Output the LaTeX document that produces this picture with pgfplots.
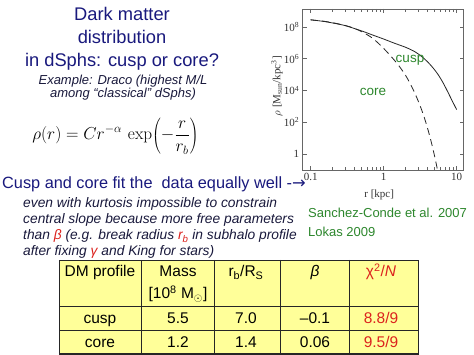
\documentclass[border=0pt]{standalone}
\usepackage[no-math]{fontspec}
\setmainfont{Liberation Sans}
\newfontfamily\serif{Liberation Serif}
\newfontfamily\dejavu{DejaVu Sans}
\usepackage{pgfplots}
\pgfplotsset{compat=1.18}
\definecolor{navy}{RGB}{25,25,125}
\definecolor{dred}{RGB}{220,35,30}
\definecolor{dgreen}{RGB}{45,135,45}
\definecolor{tyellow}{RGB}{255,255,153}
\definecolor{itxt}{RGB}{25,25,60}
\newcommand\fs[1]{\fontsize{#1}{#1}\selectfont}

\pgfplotstableread{
r rho
0.1 2.82e8
0.15 2.24e8
0.2 1.78e8
0.3 1.20e8
0.5 5.62e7
0.7 3.16e7
1.0 1.74e7
1.4 9.55e6
2.0 5.25e6
2.66 2.82e6
3.3 1.41e6
4.05 6.03e5
4.8 2.51e5
5.54 1.05e5
6.5 3.16e4
7.59 7.94e3
8.7 2.24e3
10 631
}\cusp

\pgfplotstableread{
r rho
0.1 2.8e8
0.15 2.3e8
0.2 1.86e8
0.3 1.23e8
0.4 8.0e7
0.5 5.0e7
0.7 2.0e7
1.0 4.47e6
1.5 5.62e5
2.0 8.9e4
2.5 1.32e4
3.0 2.0e3
3.5 302
4.0 41.7
4.5 5.6
5.0 0.71
5.5 0.089
}\core

\begin{document}
\begin{tikzpicture}
\begin{scope}[x=1pt,y=1pt]
\fill[white] (0,0) rectangle (474,355);

% title
\node[navy, anchor=base, font=\fs{18.3}] at (122,355-21) {Dark matter};
\node[navy, anchor=base, font=\fs{18.3}] at (122,355-44) {distribution};
\node[navy, anchor=base, font=\fs{18.3}] at (122,355-67) {in dSphs: cusp or core?};
\node[itxt, anchor=base, font=\fs{13}\itshape] at (123,355-85) {Example: Draco (highest M/L};
\node[itxt, anchor=base, font=\fs{13}\itshape] at (123,355-98) {among “classical” dSphs)};

% formula
\node[black, anchor=center, font=\fs{16.5}] at (115.5,355-136) {$\displaystyle \rho(r) = Cr^{-\alpha}\,\exp\!\left(-\frac{r}{r_b}\right)$};

% body text
\node[navy, anchor=base west, font=\fs{16.3}, inner sep=0pt] at (2,355-189) {Cusp and core fit the\ \ data equally well -{\dejavu →}};
\node[itxt, anchor=base west, font=\fs{13.8}\itshape, inner sep=0pt] at (23,355-208) {even with kurtosis impossible to constrain};
\node[itxt, anchor=base west, font=\fs{13.8}\itshape, inner sep=0pt] at (23,355-224) {central slope because more free parameters};
\node[itxt, anchor=base west, font=\fs{13.8}\itshape, inner sep=0pt] at (23,355-240) {than {\color{dred}β} (e.g. break radius {\color{dred}r\textsubscript{b}} in subhalo profile};
\node[itxt, anchor=base west, font=\fs{13.8}\itshape, inner sep=0pt] at (23,355-255.5) {after fixing {\color{dred}γ} and King for stars)};

\node[dgreen, anchor=base west, font=\fs{13}, inner sep=0pt] at (308,355-218) {Sanchez-Conde et al. 2007};
\node[dgreen, anchor=base west, font=\fs{13}, inner sep=0pt] at (308,355-237) {Lokas 2009};
\end{scope}

% plot
\begin{axis}[
  at={(302.7pt,185pt)}, anchor=south west, scale only axis,
  width=161pt, height=161pt,
  xmode=log, ymode=log,
  xmin=0.0778, xmax=12.5, ymin=0.1, ymax=1.35e9,
  xtick={0.1,1,10}, xticklabels={0.1,1,10},
  ytick={1,1e2,1e4,1e6,1e8},
  yticklabels={1,10\textsuperscript{2},10\textsuperscript{4},10\textsuperscript{6},10\textsuperscript{8}},
  minor xtick={}, minor ytick={},
  tick align=inside, major tick length=4pt,
  axis line style={black!60, line width=0.6pt},
  tick style={black!60, line width=0.5pt},
  tick label style={font=\serif\fs{11}, text=black!80},
  xlabel={r [kpc]},
  xlabel style={font=\serif\fs{11}, text=black!80, at={(axis description cs:0.475,-0.155)}, anchor=center},
  ylabel={$\rho$ [M\textsubscript{sun}/kpc\textsuperscript{3}]},
  ylabel style={font=\serif\fs{11}, text=black!80, at={(axis description cs:-0.16,0.52)}, anchor=center},
]
\addplot[black!85, line width=0.8pt, smooth, tension=0.5] table[x=r, y=rho] {\cusp};
\addplot[black!85, line width=0.8pt, smooth, tension=0.5, dash pattern=on 7pt off 4.5pt] table[x=r, y=rho] {\core};
\end{axis}

\begin{scope}[x=1pt,y=1pt]
\node[dgreen, anchor=center, font=\fs{13.5}] at (410,355-60) {cusp};
\node[dgreen, anchor=center, font=\fs{13.5}] at (373,355-92) {core};

% table
\fill[tyellow] (59,95) rectangle (418,1);
\draw[black!85, line width=0.8pt] (59,95) rectangle (418,1);
\draw[black!85, line width=0.8pt] (59,49) -- (418,49);
\draw[black!85, line width=0.8pt] (59,25) -- (418,25);
\foreach \xx in {141,214,280,349} \draw[black!85, line width=0.8pt] (\xx,95) -- (\xx,1);
\draw[black!85, line width=1.6pt] (59,1) -- (418,1);

\begin{scope}[every node/.style={anchor=base, font=\fs{15.5}, inner sep=0pt}]
\node at (100,78) {DM profile};
\node at (178,78) {Mass};
\node at (178,56) {[10\textsuperscript{8} M$_\odot$]};
\node at (246,78) {r\textsubscript{b}/R\textsubscript{S}};
\node at (315,78) {\itshape β};
\node[dred] at (381,78) {χ\textsuperscript{2}/\textit{N}};
\node at (100,31.5) {cusp};
\node at (178,31.5) {5.5};
\node at (246,31.5) {7.0};
\node at (315,31.5) {–0.1};
\node[dred] at (381,31.5) {8.8/9};
\node at (100,7.5) {core};
\node at (178,7.5) {1.2};
\node at (246,7.5) {1.4};
\node at (315,7.5) {0.06};
\node[dred] at (381,7.5) {9.5/9};
\end{scope}
\end{scope}
\end{tikzpicture}
\end{document}
